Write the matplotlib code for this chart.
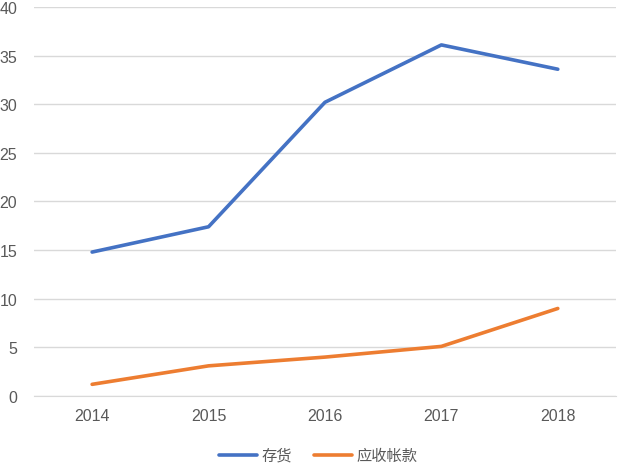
import matplotlib.pyplot as plt

plt.rcParams['font.family'] = ['Liberation Sans', 'Noto Sans CJK SC', 'DejaVu Sans']

years = ['2014', '2015', '2016', '2017', '2018']
inventory = [14.8, 17.4, 30.2, 36.1, 33.6]
receivables = [1.2, 3.1, 4.0, 5.1, 9.0]
series_names = ['存货', '应收帐款']

fig = plt.figure(figsize=(6.4, 4.64), dpi=100)
ax = fig.add_axes([0.053, 0.1444, 0.9095, 0.8384])

x = range(len(years))
ax.plot(x, inventory, color='#4472c4', linewidth=2.6, label=series_names[0],
        solid_capstyle='round')
ax.plot(x, receivables, color='#ed7d31', linewidth=2.6, label=series_names[1],
        solid_capstyle='round')

ax.set_xlim(-0.5, len(years) - 0.5)
ax.set_ylim(0, 40)
ax.set_yticks(range(0, 41, 5))
ax.set_xticks(list(x))
ax.set_xticklabels(years)
ax.grid(axis='y', color='#d9d9d9', linewidth=1)
ax.set_axisbelow(True)
for side in ('top', 'right', 'left'):
  ax.spines[side].set_visible(False)
ax.spines['bottom'].set_color('#d9d9d9')
ax.tick_params(length=0, colors='#595959', labelsize=11.5, pad=9)
ax.tick_params(axis='y', pad=12)

fig.legend(loc='center', bbox_to_anchor=(0.497, 0.016), ncol=2, frameon=False,
           fontsize=11, handlelength=2.5, columnspacing=1.4, handletextpad=0.3,
           labelcolor='#595959')

fig.savefig('out.png', dpi=100)
